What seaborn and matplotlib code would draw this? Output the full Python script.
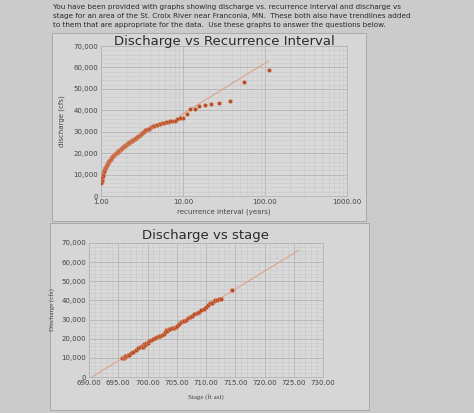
import numpy as np
import pandas as pd

import matplotlib.pyplot as plt
import matplotlib.ticker as mticker
from matplotlib.patches import Rectangle
import seaborn as sns

# Discharge vs recurrence interval (annual peaks, ranked)
recurrence = [111.0, 55.5, 37.0, 27.75, 22.2, 18.5, 15.86, 13.88, 12.33, 11.1,
              10.09, 9.25, 8.54, 7.93, 7.4, 6.94, 6.53, 6.17, 5.84, 5.55,
              5.29, 5.05, 4.83, 4.63, 4.44, 4.27, 4.11, 3.96, 3.83, 3.7,
              3.58, 3.47, 3.36, 3.26, 3.17, 3.08, 3.0, 2.92, 2.85, 2.78,
              2.71, 2.64, 2.58, 2.52, 2.47, 2.41, 2.36, 2.31, 2.27, 2.22,
              2.18, 2.13, 2.09, 2.06, 2.02, 1.98, 1.95, 1.91, 1.88, 1.85,
              1.82, 1.79, 1.76, 1.73, 1.71, 1.68, 1.66, 1.63, 1.61, 1.59,
              1.56, 1.54, 1.52, 1.5, 1.48, 1.46, 1.44, 1.42, 1.41, 1.39,
              1.37, 1.35, 1.34, 1.32, 1.31, 1.29, 1.28, 1.26, 1.25, 1.23,
              1.22, 1.21, 1.19, 1.18, 1.17, 1.16, 1.14, 1.13, 1.12, 1.11,
              1.1, 1.09, 1.08, 1.07, 1.06, 1.05, 1.04, 1.03, 1.02, 1.01]
discharge = [59000, 53000, 44300, 43300, 43100, 42300, 41800, 40800, 40600, 38500,
             36400, 36300, 36000, 35100, 35000, 34800, 34600, 34400, 34100, 33900,
             33700, 33500, 33300, 33100, 32800, 32500, 32200, 31900, 31500, 31200,
             30900, 30600, 30100, 29700, 29300, 28900, 28500, 28100, 27900, 27700,
             27400, 27100, 26800, 26500, 26300, 26000, 25700, 25500, 25300, 25100,
             24900, 24700, 24500, 24200, 24000, 23700, 23500, 23200, 23000, 22800,
             22500, 22300, 22100, 21800, 21600, 21400, 21200, 21000, 20800, 20600,
             20300, 20100, 19900, 19700, 19500, 19300, 19100, 18900, 18700, 18500,
             18200, 18000, 17800, 17500, 17300, 17000, 16800, 16500, 16200, 15900,
             15600, 15300, 15000, 14700, 14400, 14100, 13700, 13300, 12900, 12500,
             12100, 11600, 11100, 10500, 9900, 9200, 8400, 7600, 6800, 6000]

# Discharge vs stage
stage = [695.7, 695.9, 696.0, 696.1, 696.2, 696.3, 696.4, 696.6, 696.8, 697.2,
         697.6, 698.0, 698.4, 698.8, 699.0, 699.2, 699.4, 699.6, 699.8, 700.0,
         700.3, 700.6, 701.0, 701.3, 701.6, 701.9, 702.2, 702.5, 702.8, 703.0,
         703.1, 703.3, 703.6, 703.9, 704.2, 704.5, 704.8, 705.1, 705.4, 705.7,
         706.0, 706.3, 706.6, 706.9, 707.2, 707.6, 708.0, 708.4, 708.8, 709.2,
         709.6, 710.0, 710.4, 710.7, 711.0, 711.3, 711.6, 711.9, 712.2, 712.5,
         714.5]
stage_q = [9800, 10500, 10000, 10900, 10400, 11200, 10800, 11600, 11700, 12400,
           13000, 14200, 14900, 15800, 16400, 15900, 17000, 16600, 17600, 17900,
           18600, 19200, 19800, 20300, 20900, 21200, 21500, 21800, 22400, 23600,
           24500, 24100, 25000, 25300, 25600, 25800, 26200, 26600, 27600, 28700,
           29200, 29000, 29600, 30800, 31200, 31900, 32800, 33300, 34100, 34900,
           35400, 36600, 37500, 38400, 38700, 39500, 40100, 40300, 40500, 40800,
           45200]

intro = ["You have been provided with graphs showing discharge vs. recurrence interval and discharge vs",
         "stage for an area of the St. Croix River near Franconia, MN.  These both also have trendlines added",
         "to them that are appropriate for the data.  Use these graphs to answer the questions below."]

# part of the trendlines that shows in the picture
ri_trend_range = [9.0, 111.0]
stage_trend_range = [690.4, 725.8]

df_ri = pd.DataFrame({"ri": recurrence, "q": discharge})
df_st = pd.DataFrame({"stage": stage, "q": stage_q})

sns.set_style("white")
plt.rcParams['font.family'] = ['DejaVu Sans']

W, H = 474, 413
fig = plt.figure(figsize=(W / 100, H / 100), dpi=100, facecolor="#cbcbcb")

def px_rect(x0, y0, x1, y1):
    return [x0 / W, 1 - y1 / H, (x1 - x0) / W, (y1 - y0) / H]

# chart panels
for x0, y0, x1, y1 in [(52, 33, 366, 221), (50, 223, 369, 410)]:
    r = px_rect(x0, y0, x1, y1)
    fig.patches.append(Rectangle((r[0], r[1]), r[2], r[3], transform=fig.transFigure,
                                 facecolor="#d6d6d6", edgecolor="#a8a8a8", lw=0.7, zorder=-5))

for i, line in enumerate(intro):
    fig.text(53 / W, 1 - (7 + 9 * i) / H, line, fontsize=5.25, color="#2a2a2a",
             va="center", ha="left")

mark = "#bb4a22"
halo = "#dba083"
trend = "#d9a48a"
tick_kw = dict(labelsize=5, colors="#444444", length=0, pad=2)

# --- Discharge vs Recurrence Interval
ax1 = fig.add_axes(px_rect(101, 46, 347, 196))
ax1.set_facecolor("#d9d9d9")
ax1.set_xscale("log")
sns.scatterplot(data=df_ri, x="ri", y="q", ax=ax1, color=mark, s=8,
                edgecolor=halo, linewidth=0.3, zorder=3)
a, b = np.polyfit(np.log(df_ri["ri"]), df_ri["q"], 1)
tx = np.geomspace(ri_trend_range[0], ri_trend_range[1], 50)
ax1.plot(tx, a * np.log(tx) + b, color=trend, lw=0.8, zorder=2)
ax1.set_xlim(1, 1000)
ax1.set_ylim(0, 70000)
ax1.xaxis.set_major_formatter(mticker.FuncFormatter(lambda v, p: f"{v:.2f}"))
ax1.yaxis.set_major_locator(mticker.MultipleLocator(10000))
ax1.yaxis.set_minor_locator(mticker.MultipleLocator(2000))
ax1.yaxis.set_major_formatter(mticker.FuncFormatter(lambda v, p: f"{v:,.0f}"))
ax1.grid(which="major", color="#b4b4b4", lw=0.6)
ax1.grid(which="minor", color="#c8c8c8", lw=0.4)
ax1.tick_params(which="both", **tick_kw)
ax1.set_xlabel("recurrence interval (years)", fontsize=5, color="#444444", labelpad=3)
ax1.set_ylabel("discharge (cfs)", fontsize=5, color="#444444", labelpad=6)
ax1.set_title("Discharge vs Recurrence Interval", fontsize=9.5, color="#2a2a2a", pad=1)
for s in ax1.spines.values():
    s.set_color("#b4b4b4")
    s.set_linewidth(0.6)

# --- Discharge vs stage
ax2 = fig.add_axes(px_rect(89, 243, 323, 377))
ax2.set_facecolor("#d9d9d9")
sns.scatterplot(data=df_st, x="stage", y="q", ax=ax2, color=mark, s=9,
                edgecolor=halo, linewidth=0.3, zorder=3)
m, c = np.polyfit(df_st["stage"], df_st["q"], 1)
sx = np.array(stage_trend_range)
ax2.plot(sx, m * sx + c, color=trend, lw=0.8, zorder=2)
ax2.set_xlim(690, 730)
ax2.set_ylim(0, 70000)
ax2.xaxis.set_major_locator(mticker.MultipleLocator(5))
ax2.xaxis.set_minor_locator(mticker.MultipleLocator(1))
ax2.yaxis.set_major_locator(mticker.MultipleLocator(10000))
ax2.yaxis.set_minor_locator(mticker.MultipleLocator(2000))
ax2.xaxis.set_major_formatter(mticker.FuncFormatter(lambda v, p: f"{v:.2f}"))
ax2.yaxis.set_major_formatter(mticker.FuncFormatter(lambda v, p: f"{v:,.0f}"))
ax2.grid(which="major", color="#b4b4b4", lw=0.6)
ax2.grid(which="minor", color="#c8c8c8", lw=0.4)
ax2.tick_params(which="both", **tick_kw)
ax2.set_xlabel("Stage (ft asl)", fontsize=5, color="#444444", labelpad=6, family="Liberation Serif")
ax2.set_ylabel("Discharge (cfs)", fontsize=5, color="#444444", labelpad=5, family="Liberation Serif")
ax2.set_title("Discharge vs stage", fontsize=9.5, color="#2a2a2a", pad=3)
for s in ax2.spines.values():
    s.set_color("#b4b4b4")
    s.set_linewidth(0.6)

fig.savefig("out.png", dpi=100, facecolor=fig.get_facecolor())
